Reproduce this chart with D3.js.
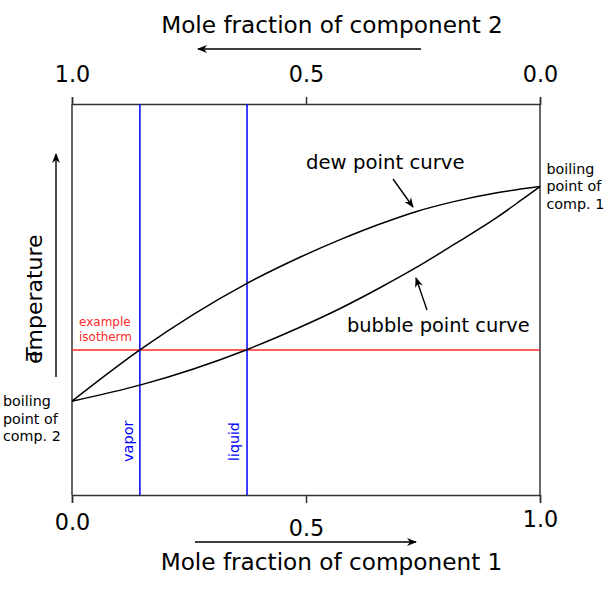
<!DOCTYPE html>
<html><head><meta charset="utf-8">
<script src="https://cdn.jsdelivr.net/npm/d3@7"></script>
<style>body{margin:0;background:#fff}svg{display:block}text{font-family:"DejaVu Sans",sans-serif}</style>
</head><body>
<svg id="c" width="610" height="590"></svg>
<script>
// ---- data ----
const bottomTicks = [0.0, 0.5, 1.0];
const topTicks = [1.0, 0.5, 0.0];
const bubbleX = [0, 0.145, 0.372, 0.487, 0.573, 0.658, 0.733, 0.818, 0.908, 0.962, 1];
const bubbleT = [0.240, 0.281, 0.371, 0.429, 0.477, 0.530, 0.580, 0.642, 0.710, 0.756, 0.789];
const dewX = [0, 0.145, 0.372, 0.487, 0.573, 0.658, 0.733, 0.818, 0.908, 1];
const dewT = [0.240, 0.371, 0.540, 0.608, 0.653, 0.693, 0.724, 0.751, 0.773, 0.789];
const isothermT = 0.371;
const vaporX = 0.145;
const liquidX = 0.374;

const svg = d3.select("#c");
const x = d3.scaleLinear([0, 1], [72, 540]);
const xTop = d3.scaleLinear([1, 0], [72, 540]);
const y = d3.scaleLinear([0, 1], [495, 104]);
const axisColor = "#333";

const defs = svg.append("defs");
defs.append("marker").attr("id", "ah").attr("viewBox", "-10 -5 12 10")
  .attr("refX", 0).attr("refY", 0).attr("markerWidth", 12).attr("markerHeight", 10)
  .attr("markerUnits", "userSpaceOnUse").attr("orient", "auto")
  .append("path").attr("d", "M1,0 L-9,-4 L-6,0 L-9,4 Z").attr("fill", "#000");

// frame sides
svg.append("line").attr("x1", x(0)).attr("x2", x(0)).attr("y1", y(0)).attr("y2", y(1))
  .attr("stroke", axisColor).attr("stroke-width", 1.5);
svg.append("line").attr("x1", x(1)).attr("x2", x(1)).attr("y1", y(0)).attr("y2", y(1))
  .attr("stroke", axisColor).attr("stroke-width", 1.5);

// axes
const gB = svg.append("g").attr("transform", `translate(0,${y(0)})`)
  .call(d3.axisBottom(x).tickValues(bottomTicks).tickSize(8).tickFormat(d3.format(".1f")));
const gT = svg.append("g").attr("transform", `translate(0,${y(1)})`)
  .call(d3.axisTop(xTop).tickValues(topTicks).tickSize(7).tickFormat(d3.format(".1f")));
[gB, gT].forEach(g => {
  g.selectAll("path,line").attr("stroke", axisColor).attr("stroke-width", 1.5);
  g.selectAll("text").attr("fill", "#000").style("font-family", "DejaVu Sans").attr("font-size", 22.3);
});
gT.selectAll(".tick text").attr("dy", null).attr("y", -22);
const bOff = [35, 41, 32];
gB.selectAll(".tick text").attr("dy", null).attr("y", (d, i) => bOff[i]);

// isotherm & tie lines
svg.append("line").attr("x1", x(0)).attr("x2", x(1)).attr("y1", y(isothermT)).attr("y2", y(isothermT))
  .attr("stroke", "#ff2a2a").attr("stroke-width", 1.5);
[vaporX, liquidX].forEach(v => svg.append("line").attr("x1", x(v)).attr("x2", x(v))
  .attr("y1", y(0)).attr("y2", y(1)).attr("stroke", "#0000ff").attr("stroke-width", 1.5));

// curves
const line = d3.line().x(d => x(d[0])).y(d => y(d[1])).curve(d3.curveMonotoneX);
svg.append("path").attr("d", line(bubbleX.map((v, i) => [v, bubbleT[i]])))
  .attr("fill", "none").attr("stroke", "#000").attr("stroke-width", 1.5);
svg.append("path").attr("d", line(dewX.map((v, i) => [v, dewT[i]])))
  .attr("fill", "none").attr("stroke", "#000").attr("stroke-width", 1.5);

// arrows
function arrow(x1, y1, x2, y2) {
  svg.append("line").attr("x1", x1).attr("y1", y1).attr("x2", x2).attr("y2", y2)
    .attr("stroke", "#000").attr("stroke-width", 1.4).attr("marker-end", "url(#ah)");
}
arrow(421, 49, 198, 49);
arrow(195, 542, 416, 542);
arrow(56, 377, 56, 154);
arrow(393, 179, 413, 207);
arrow(427, 310, 416, 278);

// texts
function txt(t, px, py, size, color, anchor) {
  return svg.append("text").attr("x", px).attr("y", py).attr("font-size", size)
    .attr("fill", color || "#000").attr("text-anchor", anchor || "start").text(t);
}
txt("Mole fraction of component 2", 332, 33, 23.2, "#000", "middle");
txt("Mole fraction of component 1", 331.5, 570, 23.2, "#000", "middle");
txt("dew point curve", 306, 169, 19.7);
txt("bubble point curve", 347, 332, 19.4);
["boiling", "point of", "comp. 1"].forEach((t, i) => txt(t, 546.5, 174 + i * 17.4, 14.3));
["boiling", "point of", "comp. 2"].forEach((t, i) => txt(t, 3, 406 + i * 17.5, 14.3));
txt("example", 79, 325.5, 12, "#ff2a2a");
txt("isotherm", 79, 340.5, 12, "#ff2a2a");
svg.append("text").attr("transform", "translate(133,462) rotate(-90)").attr("font-size", 14.5)
  .attr("fill", "#0000ff").text("vapor");
svg.append("text").attr("transform", "translate(239,461) rotate(-90)").attr("font-size", 14.2)
  .attr("fill", "#0000ff").text("liquid");
const tt = svg.append("text").attr("transform", "translate(42,364) rotate(-90)").attr("font-size", 22);
tt.append("tspan").text("T");
tt.append("tspan").attr("dx", -13).text("emperature");
</script>
</body></html>
